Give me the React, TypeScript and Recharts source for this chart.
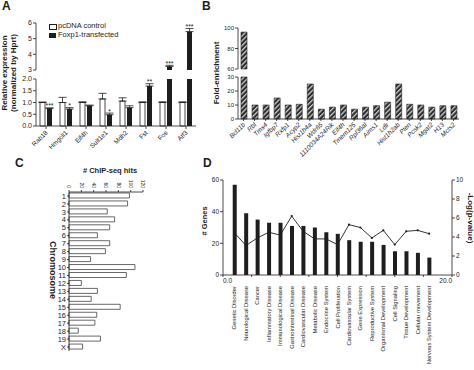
import React from "react";
import {
  Bar,
  BarChart,
  ComposedChart,
  ErrorBar,
  LabelList,
  Line,
  XAxis,
  YAxis,
} from "recharts";

const FONT = '"Liberation Sans", Arial, Helvetica, sans-serif';
const INK = "#1e1e1e";

// ---- panel A: qPCR, relative expression ----
const genesA = ["Rab18", "Hmgcll1", "Eif4h", "Sult1e1", "Mdh2", "Fst", "Fos", "Atf3"];
const controlA = [1.0, 1.0, 1.0, 1.15, 1.06, 1.0, 1.0, 1.0];
const controlErrA = [0.02, 0.22, 0.03, 0.24, 0.14, 0.03, 0.03, 0.03];
const foxp1A = [0.75, 0.72, 0.86, 0.48, 0.78, 1.7, 3.22, 5.45];
const foxp1ErrA = [0.02, 0.06, 0.03, 0.07, 0.08, 0.1, 0.08, 0.2];
const sigA = ["***", "*", "", "*", "", "**", "***", "***"];

// ---- panel B: fold enrichment ----
const genesB = [
  "Bcl11b", "Rbl", "Tmx4", "Igfbp7", "Rxfp1", "Acyp2", "Hist1h4a", "Wdr65",
  "1110034A24Rik", "Eif4h", "Tmem125", "Rpl36al", "Aims1", "Ldlr", "Hist1h2ab",
  "Pten", "Pcsk2", "Mgat2", "H13", "Mcts2",
];
const foldB = [96, 10, 10, 15, 10, 10.5, 25, 7, 8.5, 10, 7, 8.5, 9.5, 12, 25, 10.5, 10, 8.5, 9.5, 9.5];

// ---- panel C: ChIP-seq hits per chromosome ----
const chromosomes = ["1", "2", "3", "4", "5", "6", "7", "8", "9", "10", "11", "12", "13", "14", "15", "16", "17", "18", "19", "X"];
const hitsC = [98, 95, 62, 74, 66, 46, 66, 59, 35, 107, 93, 20, 46, 36, 83, 45, 42, 15, 51, 22];
const ticksC = [0, 20, 40, 60, 80, 100, 120];

// ---- panel D: functional categories ----
const categoriesD = [
  "Genetic Disorder", "Neurological Disease", "Cancer", "Inflammatory Disease",
  "Immunological Disease", "Gastrointestinal Disease", "Cardiovascular Disease",
  "Metabolic Disease", "Endocrine System", "Cell Proliferation", "Cardiovascular System",
  "Gene Expression", "Reproductive System", "Organismal Development", "Cell Signaling",
  "Tissue Development", "Cellular movement", "Nervous System Development",
];
const genesD = [57, 39, 35, 33, 33, 31, 31, 30, 27, 26, 22, 21, 21, 19, 15, 15, 14, 11];
const logpD = [4.45, 3.1, 3.9, 4.5, 4.2, 6.2, 4.6, 3.8, 3.8, 3.2, 5.3, 5.0, 3.9, 4.7, 3.2, 4.6, 4.7, 4.35];
const ticksD = [0, 2.5, 5, 7.5, 10, 12.5, 15, 17.5, 20];

// broken axes: lower segment clamps at its top, upper segment only keeps what reaches it
const rowsALow = genesA.map((g, i) => ({
  gene: g,
  ctrl: controlA[i],
  ctrlErr: controlErrA[i],
  fox: Math.min(foxp1A[i], 2),
  foxErr: foxp1A[i] > 2 ? null : foxp1ErrA[i],
  star: foxp1A[i] > 2 ? "|0" : `${sigA[i]}|${foxp1ErrA[i]}`,
}));
const rowsAHigh = genesA.map((g, i) => ({
  gene: g,
  ctrl: null,
  ctrlErr: null,
  fox: foxp1A[i] > 3 ? foxp1A[i] : null,
  foxErr: foxp1A[i] > 3 ? foxp1ErrA[i] : null,
  star: foxp1A[i] > 3 ? `${sigA[i]}|${foxp1ErrA[i]}` : "|0",
}));
const rowsBLow = genesB.map((g, i) => ({ gene: g, fold: Math.min(foldB[i], 30) }));
const rowsBHigh = genesB.map((g, i) => ({ gene: g, fold: foldB[i] > 60 ? foldB[i] : null }));
const rowsC = chromosomes.map((c, i) => ({ chr: c, hits: hitsC[i] }));
const rowsD = categoriesD.map((c, i) => ({ x: i + 1, name: c, genes: genesD[i], logp: logpD[i] }));

const tickStyle = { fontSize: 7, fill: INK };
const axisLine = { stroke: INK, strokeWidth: 0.8 };

const slantTick = (italic: boolean) => (p: any) => (
  <text
    x={p.x}
    y={p.y}
    dy={3}
    textAnchor="end"
    transform={`rotate(-45 ${p.x} ${p.y})`}
    fontSize={6.5}
    fontStyle={italic ? "italic" : "normal"}
    fill={INK}
  >
    {p.payload.value}
  </text>
);

const upTick = (p: any) => (
  <text x={p.x} y={p.y} dy={1.8} textAnchor="end" transform={`rotate(90 ${p.x} ${p.y})`} fontSize={5} fill={INK}>
    {p.payload.value}
  </text>
);

const catTickD = (p: any) => (
  <text x={p.x} y={p.y} dy={2} textAnchor="end" transform={`rotate(-90 ${p.x} ${p.y})`} fontSize={5.8} fill={INK}>
    {categoriesD[p.payload.value - 1]}
  </text>
);

// only the ends of the lower D axis carry a label
const endTickD = (p: any) => {
  const v = p.payload.value;
  if (v !== 0 && v !== 20) return <g />;
  return (
    <text x={p.x} y={p.y} dy={6} textAnchor={v === 0 ? "start" : "end"} fontSize={6.5} fill={INK}>
      {v.toFixed(1)}
    </text>
  );
};

// stars sit just above the error cap; ppu = pixels per unit of that segment
const starLabel = (ppu: number) => (props: any) => {
  const vb = props.viewBox || props;
  const [sig, e] = String(props.value ?? "").split("|");
  if (!sig || vb == null || vb.x == null) return null;
  const top = Math.min(vb.y, vb.y + vb.height);
  const cap = top - Number(e) * ppu;
  return (
    <text x={vb.x + vb.width / 2} y={cap + 0.5} textAnchor="middle" fontSize={7} fill={INK}>
      {sig}
    </text>
  );
};

function Txt({ x, y, rot = 0, size = 8, bold = true, children }: any) {
  return (
    <div
      style={{
        position: "absolute",
        left: x,
        top: y,
        transform: `translate(-50%, -50%) rotate(${rot}deg)`,
        fontSize: size,
        fontWeight: bold ? "bold" : "normal",
        whiteSpace: "nowrap",
        lineHeight: 1,
        color: INK,
      }}
    >
      {children}
    </div>
  );
}

function Box({ x, y, children }: any) {
  return <div style={{ position: "absolute", left: x, top: y }}>{children}</div>;
}

function PanelA() {
  return (
    <>
      <Box x={0} y={0}>
        <BarChart width={200} height={72} data={rowsAHigh} margin={{ top: 23, right: 4, bottom: 2, left: 0 }} barSize={5} barGap={2}>
          <XAxis dataKey="gene" hide />
          <YAxis domain={[3, 6]} ticks={[3, 4, 5, 6]} interval={0} width={36} tick={tickStyle} tickSize={3} tickMargin={1} axisLine={axisLine} tickLine={axisLine} />
          <Bar dataKey="ctrl" fill="#fff" stroke={INK} strokeWidth={0.8} isAnimationActive={false} />
          <Bar dataKey="fox" fill={INK} isAnimationActive={false}>
            <ErrorBar dataKey={(d: any) => (d.foxErr == null ? null : [0, d.foxErr])} width={4} stroke={INK} strokeWidth={0.8} />
            <LabelList dataKey="star" content={starLabel(47 / 3)} />
          </Bar>
        </BarChart>
      </Box>
      <Box x={0} y={0}>
        <BarChart width={200} height={170} data={rowsALow} margin={{ top: 79, right: 4, bottom: 14, left: 0 }} barSize={5} barGap={2}>
          <XAxis dataKey="gene" interval={0} height={30} tick={slantTick(false)} tickSize={3} axisLine={axisLine} tickLine={axisLine} />
          <YAxis domain={[0, 2]} ticks={[0, 0.5, 1, 1.5, 2]} interval={0} tickFormatter={(v: number) => v.toFixed(1)} width={36} tick={tickStyle} tickSize={3} tickMargin={1} axisLine={axisLine} tickLine={axisLine} />
          <Bar dataKey="ctrl" fill="#fff" stroke={INK} strokeWidth={0.8} isAnimationActive={false}>
            <ErrorBar dataKey={(d: any) => (d.ctrlErr == null ? null : [0, d.ctrlErr])} width={4} stroke={INK} strokeWidth={0.8} />
          </Bar>
          <Bar dataKey="fox" fill={INK} isAnimationActive={false}>
            <ErrorBar dataKey={(d: any) => (d.foxErr == null ? null : [0, d.foxErr])} width={4} stroke={INK} strokeWidth={0.8} />
            <LabelList dataKey="star" content={starLabel(47 / 2)} />
          </Bar>
        </BarChart>
      </Box>
      {/* legend */}
      <div style={{ position: "absolute", left: 49, top: 23.5, width: 6, height: 4, border: `0.8px solid ${INK}`, background: "#fff" }} />
      <div style={{ position: "absolute", left: 49, top: 32.5, width: 7, height: 5, background: INK }} />
      <div style={{ position: "absolute", left: 58, top: 22, fontSize: 7.5, lineHeight: 1, color: INK }}>pcDNA control</div>
      <div style={{ position: "absolute", left: 58, top: 31, fontSize: 7.5, lineHeight: 1, color: INK }}>Foxp1-transfected</div>
      <Txt x={5} y={73} rot={-90}>Relative expression</Txt>
      <Txt x={13.5} y={73} rot={-90}>(normalized by Hprt)</Txt>
    </>
  );
}

function PanelB() {
  return (
    <>
      <Box x={200} y={0}>
        <BarChart width={274} height={71} data={rowsBHigh} margin={{ top: 28, right: 15, bottom: 2, left: 0 }} barSize={6}>
          <XAxis dataKey="gene" hide />
          <YAxis domain={[60, 100]} ticks={[60, 80, 100]} interval={0} width={38} tick={{ ...tickStyle, fontSize: 6 }} tickSize={3} tickMargin={1} axisLine={axisLine} tickLine={axisLine} />
          <Bar dataKey="fold" fill="url(#hatchB)" stroke={INK} strokeWidth={0.6} isAnimationActive={false} />
        </BarChart>
      </Box>
      <Box x={200} y={0}>
        <BarChart width={274} height={170} data={rowsBLow} margin={{ top: 77, right: 15, bottom: 20, left: 0 }} barSize={6}>
          <XAxis dataKey="gene" interval={0} height={31} tick={slantTick(true)} tickSize={2} axisLine={axisLine} tickLine={axisLine} />
          <YAxis domain={[0, 30]} ticks={[0, 10, 20, 30]} interval={0} width={38} tick={{ ...tickStyle, fontSize: 6 }} tickSize={3} tickMargin={1} axisLine={axisLine} tickLine={axisLine} />
          <Bar dataKey="fold" fill="url(#hatchB)" stroke={INK} strokeWidth={0.6} isAnimationActive={false} />
        </BarChart>
      </Box>
      <Txt x={217} y={73} rot={-90}>Fold-enrichment</Txt>
    </>
  );
}

function PanelC() {
  return (
    <>
      <Box x={0} y={170}>
        <BarChart layout="vertical" width={160} height={181} data={rowsC} margin={{ top: 2, right: 17, bottom: 0, left: 0 }} barSize={5}>
          <XAxis type="number" orientation="top" domain={[0, 120]} ticks={ticksC} interval={0} height={20} tick={upTick} tickSize={2} axisLine={axisLine} tickLine={axisLine} />
          <YAxis type="category" dataKey="chr" interval={0} width={69} tick={{ ...tickStyle, fontSize: 7.5 }} tickSize={2} tickMargin={1} axisLine={axisLine} tickLine={axisLine} />
          <Bar dataKey="hits" fill="#fff" stroke="#444" strokeWidth={0.8} isAnimationActive={false} />
        </BarChart>
      </Box>
      <Txt x={110} y={171} size={7.5}># ChIP-seq hits</Txt>
      <Txt x={52} y={270} rot={90} size={9}>Chromosome</Txt>
    </>
  );
}

function PanelD() {
  return (
    <>
      <Box x={200} y={170}>
        <ComposedChart width={274} height={200} data={rowsD} margin={{ top: 10, right: 0, bottom: 0, left: 0 }}>
          <XAxis
            type="number"
            dataKey="x"
            domain={[0, 20]}
            ticks={ticksD}
            interval={0}
            height={10}
            tick={endTickD}
            tickSize={2}
            tickMargin={0}
            axisLine={axisLine}
            tickLine={axisLine}
          />
          <XAxis
            xAxisId="cat"
            type="number"
            dataKey="x"
            domain={[0, 20]}
            ticks={categoriesD.map((_, i) => i + 1)}
            interval={0}
            height={85}
            tick={catTickD}
            tickSize={0}
            tickMargin={1}
            axisLine={false}
            tickLine={false}
          />
          <YAxis yAxisId="l" domain={[0, 60]} ticks={[0, 20, 40, 60]} interval={0} width={23} tick={{ ...tickStyle, fontSize: 6.5 }} tickSize={3} tickMargin={1} axisLine={axisLine} tickLine={axisLine} />
          <YAxis yAxisId="r" orientation="right" domain={[0, 10]} ticks={[0, 2, 4, 6, 8, 10]} interval={0} width={22} tick={{ ...tickStyle, fontSize: 6.5 }} tickSize={3} tickMargin={1} axisLine={axisLine} tickLine={axisLine} />
          <Bar yAxisId="l" dataKey="genes" fill={INK} barSize={4} isAnimationActive={false} />
          <Line
            xAxisId="cat"
            yAxisId="r"
            dataKey="logp"
            type="linear"
            stroke={INK}
            strokeWidth={0.9}
            dot={{ r: 1.1, fill: INK, stroke: "none" }}
            isAnimationActive={false}
          />
        </ComposedChart>
      </Box>
      <Txt x={204.5} y={221} rot={-90} size={7.5}># Genes</Txt>
      <Txt x={470} y={218} rot={90} size={8}>-Log(p-value)</Txt>
    </>
  );
}

export default function App() {
  return (
    <div
      style={{
        position: "absolute",
        left: 0,
        top: 0,
        width: 474,
        height: 370,
        background: "#fff",
        fontFamily: FONT,
        overflow: "hidden",
      }}
    >
      <svg width={0} height={0} style={{ position: "absolute" }}>
        <defs>
          <pattern id="hatchB" width={3.4} height={3.4} patternUnits="userSpaceOnUse" patternTransform="rotate(45)">
            <rect width={3.4} height={3.4} fill="#2b2b2b" />
            <rect width={1.3} height={3.4} fill="#cfcfcf" />
          </pattern>
        </defs>
      </svg>
      <PanelA />
      <PanelB />
      <PanelC />
      <PanelD />
      <div style={{ position: "absolute", left: 2, top: 0, fontSize: 12, fontWeight: "bold", lineHeight: 1, color: INK }}>A</div>
      <div style={{ position: "absolute", left: 202, top: 0, fontSize: 12, fontWeight: "bold", lineHeight: 1, color: INK }}>B</div>
      <div style={{ position: "absolute", left: 15, top: 157, fontSize: 12, fontWeight: "bold", lineHeight: 1, color: INK }}>C</div>
      <div style={{ position: "absolute", left: 203, top: 157, fontSize: 12, fontWeight: "bold", lineHeight: 1, color: INK }}>D</div>
    </div>
  );
}
